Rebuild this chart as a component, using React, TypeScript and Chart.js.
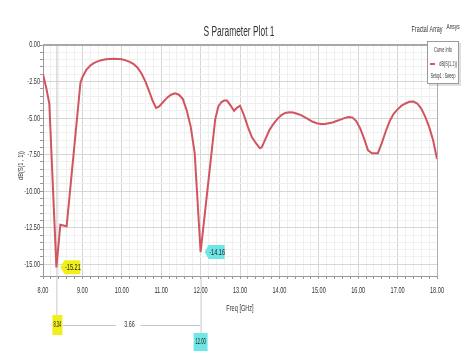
import React, { useEffect, useRef } from "react";
import { Chart, registerables } from "chart.js";

Chart.register(...registerables);

const freqs = [8.0, 8.08, 8.16, 8.34, 8.44, 8.52, 8.6, 8.95, 9.0, 9.1, 9.2, 9.3, 9.4, 9.5, 9.6, 9.7, 9.8, 9.9, 10.0, 10.1, 10.2, 10.3, 10.4, 10.5, 10.6, 10.7, 10.78, 10.87, 10.95, 11.05, 11.15, 11.25, 11.35, 11.45, 11.55, 11.65, 11.75, 11.85, 12.0, 12.37, 12.45, 12.53, 12.6, 12.67, 12.75, 12.85, 12.92, 13.0, 13.1, 13.2, 13.3, 13.4, 13.5, 13.55, 13.65, 13.75, 13.85, 13.95, 14.05, 14.15, 14.25, 14.35, 14.45, 14.55, 14.65, 14.75, 14.85, 14.95, 15.05, 15.15, 15.25, 15.35, 15.45, 15.55, 15.65, 15.75, 15.85, 15.95, 16.05, 16.15, 16.25, 16.35, 16.5, 16.6, 16.7, 16.8, 16.9, 17.0, 17.1, 17.2, 17.3, 17.4, 17.5, 17.6, 17.7, 17.8, 17.9, 18.0];
const s11 = [-2.0, -2.9, -4.0, -15.21, -12.3, -12.35, -12.4, -2.6, -2.2, -1.7, -1.4, -1.22, -1.1, -1.03, -0.98, -0.95, -0.94, -0.95, -0.98, -1.05, -1.15, -1.3, -1.55, -1.95, -2.5, -3.2, -3.8, -4.3, -4.2, -3.9, -3.6, -3.4, -3.3, -3.4, -3.7, -4.5, -5.6, -7.4, -14.16, -5.1, -4.2, -3.9, -3.8, -3.8, -4.1, -4.5, -4.3, -4.15, -4.8, -5.6, -6.3, -6.7, -7.05, -7.0, -6.4, -5.8, -5.4, -5.05, -4.8, -4.65, -4.6, -4.62, -4.7, -4.8, -4.95, -5.1, -5.25, -5.35, -5.4, -5.4, -5.35, -5.3, -5.2, -5.1, -5.0, -4.92, -4.95, -5.2, -5.7, -6.4, -7.2, -7.4, -7.4, -6.7, -5.9, -5.2, -4.7, -4.4, -4.15, -4.0, -3.88, -3.87, -4.0, -4.35, -4.9, -5.6, -6.5, -7.8];

const markerFreqs = [8.34, 12.0];
const markerVals = [-15.21, -14.16];
const markerColors = ["#f0ef1a", "#6fe6e6"];
const deltaLabel = "3.66";

const xLabels = [8, 9, 10, 11, 12, 13, 14, 15, 16, 17, 18];
const yLabels = [0, -2.5, -5, -7.5, -10, -12.5, -15];

const FONT = '"Liberation Sans Narrow", "Liberation Sans", Arial, sans-serif';
const SX = 0.62;

function txt(ctx: CanvasRenderingContext2D, s: string, x: number, y: number, size: number, align: CanvasTextAlign, color = "#222", sx = SX) {
  ctx.save();
  ctx.translate(x, y);
  ctx.scale(sx, 1);
  ctx.font = `${size}px ${FONT}`;
  ctx.fillStyle = color;
  ctx.textAlign = align;
  ctx.textBaseline = "middle";
  ctx.fillText(s, 0, 0);
  ctx.restore();
}

const decorPlugin = {
  id: "decor",
  beforeDatasetsDraw(chart: any) {
    const ctx: CanvasRenderingContext2D = chart.ctx;
    const { top, bottom } = chart.chartArea;
    const xs = chart.scales.x;
    ctx.save();
    ctx.strokeStyle = "#c8c8c8";
    ctx.lineWidth = 1;
    const x0 = xs.getPixelForValue(markerFreqs[0]);
    const x1 = xs.getPixelForValue(markerFreqs[1]);
    ctx.beginPath();
    ctx.moveTo(x0 + 0.5, top);
    ctx.lineTo(x0 + 0.5, 315);
    ctx.moveTo(x1 + 0.5, bottom);
    ctx.lineTo(x1 + 0.5, 333);
    ctx.stroke();
    ctx.restore();
  },
  afterDraw(chart: any) {
    const ctx: CanvasRenderingContext2D = chart.ctx;
    const { left, right, top, bottom } = chart.chartArea;
    const xs = chart.scales.x;
    const ys = chart.scales.y;

    ctx.save();
    ctx.strokeStyle = "#a8a8a8";
    ctx.lineWidth = 2;
    ctx.beginPath();
    ctx.moveTo(left, top);
    ctx.lineTo(right, top);
    ctx.stroke();
    ctx.lineWidth = 1;
    ctx.strokeStyle = "#b0b0b0";
    ctx.beginPath();
    ctx.moveTo(right + 0.5, top);
    ctx.lineTo(right + 0.5, bottom);
    ctx.stroke();
    ctx.restore();

    txt(ctx, "S Parameter Plot 1", 239, 32, 14, "center", "#333", 0.6);
    txt(ctx, "Fractal Array", 427, 30, 9, "center", "#333", 0.6);
    txt(ctx, "Ansys", 453, 27, 8, "center", "#333", 0.6);

    xLabels.forEach((v) => {
      txt(ctx, v.toFixed(2), xs.getPixelForValue(v), 291, 9, "center", "#333");
    });
    yLabels.forEach((v) => {
      txt(ctx, v.toFixed(2), 40, ys.getPixelForValue(v), 9, "right", "#333");
    });
    txt(ctx, "Freq [GHz]", (left + right) / 2, 309, 9, "center", "#333");
    ctx.save();
    ctx.translate(21, (top + bottom) / 2 + 5);
    ctx.rotate(-Math.PI / 2);
    txt(ctx, "dB(S(1 , 1))", 0, 0, 8, "center", "#333", 0.7);
    ctx.restore();

    ctx.save();
    ctx.fillStyle = "rgba(0,0,0,0.12)";
    ctx.fillRect(429, 43, 32, 43);
    ctx.fillStyle = "#ffffff";
    ctx.fillRect(427, 41, 32, 43);
    ctx.strokeStyle = "#9a9a9a";
    ctx.lineWidth = 1;
    ctx.strokeRect(427.5, 41.5, 31, 42);
    ctx.strokeStyle = "#d05560";
    ctx.lineWidth = 2;
    ctx.beginPath();
    ctx.moveTo(430, 64);
    ctx.lineTo(435, 64);
    ctx.stroke();
    ctx.restore();
    txt(ctx, "Curve Info", 443, 50, 7, "center", "#333", 0.55);
    txt(ctx, "dB(S(1,1))", 457, 64, 7, "right", "#333", 0.55);
    txt(ctx, "Setup1 : Sweep", 443, 76, 7, "center", "#333", 0.5);

    markerFreqs.forEach((f, i) => {
      const px = xs.getPixelForValue(f);
      const py = ys.getPixelForValue(markerVals[i]);
      const bx = px + 4;
      const bw = 20;
      const bh = 14;
      ctx.save();
      ctx.fillStyle = markerColors[i];
      ctx.beginPath();
      ctx.moveTo(bx, py);
      ctx.lineTo(bx + 4, py - bh / 2);
      ctx.lineTo(bx + bw, py - bh / 2);
      ctx.lineTo(bx + bw, py + bh / 2);
      ctx.lineTo(bx + 4, py + bh / 2);
      ctx.closePath();
      ctx.fill();
      ctx.restore();
      txt(ctx, markerVals[i].toFixed(2), bx + 12.5, py, 9, "center", "#222");
    });

    const x0 = xs.getPixelForValue(markerFreqs[0]);
    const x1 = xs.getPixelForValue(markerFreqs[1]);
    ctx.save();
    ctx.strokeStyle = "#c8c8c8";
    ctx.lineWidth = 1;
    ctx.beginPath();
    ctx.moveTo(x0 + 6, 325.5);
    ctx.lineTo(x0 + 60, 325.5);
    ctx.moveTo(x0 + 84, 325.5);
    ctx.lineTo(x1, 325.5);
    ctx.stroke();
    ctx.fillStyle = markerColors[0];
    ctx.fillRect(x0 - 4, 315, 10, 20);
    ctx.fillStyle = markerColors[1];
    ctx.fillRect(x1 - 7, 333, 14, 18);
    ctx.restore();
    txt(ctx, markerFreqs[0].toFixed(2), x0 + 1, 325, 9, "center", "#222", 0.45);
    txt(ctx, deltaLabel, (x0 + x1) / 2 + 1, 325, 9, "center", "#333", 0.6);
    txt(ctx, markerFreqs[1].toFixed(2), x1, 342, 9, "center", "#222", 0.45);
  },
};

export default function App() {
  const ref = useRef<HTMLCanvasElement | null>(null);
  useEffect(() => {
    if (!ref.current) return;
    const chart = new Chart(ref.current, {
      type: "line",
      data: {
        datasets: [
          {
            data: freqs.map((f, i) => ({ x: f, y: s11[i] })),
            borderColor: "#d05560",
            borderWidth: 2,
            pointRadius: 0,
            tension: 0,
          },
        ],
      },
      options: {
        animation: false,
        responsive: false,
        devicePixelRatio: 1,
        layout: { padding: { top: 45, left: 0, right: 37, bottom: 0 } },
        plugins: { legend: { display: false }, tooltip: { enabled: false }, title: { display: false } },
        scales: {
          x: {
            type: "linear",
            min: 8,
            max: 18,
            ticks: { stepSize: 0.2, display: false },
            grid: {
              color: (c: any) => (Math.abs(c.tick.value - Math.round(c.tick.value)) < 1e-6 ? "#d6d6d6" : "#efefef"),
              tickLength: 3,
              tickColor: "#999",
            },
            border: { color: "#999" },
            afterFit: (s: any) => {
              s.height = 88;
            },
          },
          y: {
            min: -15.8,
            max: 0,
            ticks: { stepSize: 0.5, display: false },
            grid: {
              color: (c: any) => (Math.abs(c.tick.value / 2.5 - Math.round(c.tick.value / 2.5)) < 1e-6 ? "#d6d6d6" : "#efefef"),
              tickLength: 3,
              tickColor: "#999",
            },
            border: { color: "#999" },
            afterFit: (s: any) => {
              s.width = 43;
            },
          },
        },
      },
      plugins: [decorPlugin],
    } as any);
    return () => chart.destroy();
  }, []);
  return (
    <div style={{ position: "fixed", left: 0, top: 0, width: 474, height: 364, background: "#fff" }}>
      <canvas ref={ref} width={474} height={364} style={{ width: 474, height: 364 }} />
    </div>
  );
}
